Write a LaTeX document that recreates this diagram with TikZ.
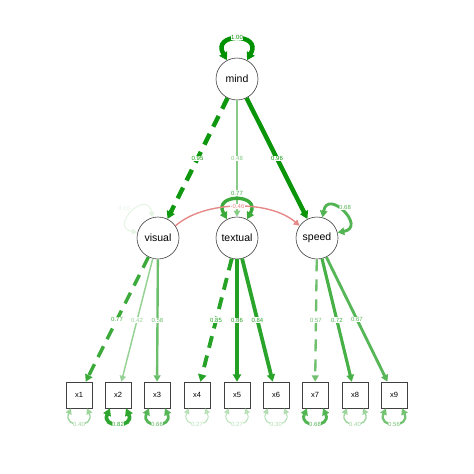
\documentclass[tikz,border=0pt]{standalone}
\usepackage{fontspec}
\setmainfont{Liberation Sans}
\usetikzlibrary{arrows.meta}

\definecolor{pos}{RGB}{0,145,0}
\definecolor{neg}{RGB}{205,20,20}

\tikzset{
  lat/.style={circle, draw=black!75, line width=0.6pt, minimum size=42pt,
    inner sep=0pt, font=\fontsize{10.5}{12}\selectfont},
  man/.style={rectangle, draw=black!75, line width=0.6pt, minimum width=26pt,
    minimum height=26pt, inner sep=0pt, font=\fontsize{7.5}{9}\selectfont},
  lbl/.style={fill=white, inner sep=0.6pt, font=\fontsize{6}{7}\selectfont},
  dsh/.style={dash pattern=on 12pt off 8pt},
}

\begin{document}
\begin{tikzpicture}[x=1pt, y=-1pt,
  >={Triangle[length=5pt 0.6, width=5pt 0.8]}]
\useasboundingbox (0,0) rectangle (474,474);

% latent variables
\node[lat] (mind) at (237,79) {mind};
\foreach \n/\x in {visual/158, textual/237, speed/317} {
  \node[lat] (\n) at (\x,238) {\n};
}

% indicators
\foreach \i/\x in {1/79, 2/118, 3/157, 4/197, 5/237, 6/276, 7/315, 8/355, 9/394} {
  \node[man] (x\i) at (\x,395) {x\i};
}

% second order loadings
\foreach \n/\v/\d in {visual/0.95/dsh, textual/0.48/solid, speed/0.96/solid} {
  \pgfmathtruncatemacro\pc{100*\v}
  \pgfmathsetmacro\w{max(1,(\v-0.15)*5.5)}
  \draw[->, color=pos!\pc!white, line width=\w pt, \d] (mind) --
    node[lbl, text=pos!\pc!white, solid] {\v} (\n);
}

% first order loadings
\foreach \f/\i/\v/\d in {visual/1/0.77/dsh, visual/2/0.42/solid, visual/3/0.58/solid,
    textual/4/0.85/dsh, textual/5/0.86/solid, textual/6/0.84/solid,
    speed/7/0.57/dsh, speed/8/0.72/solid, speed/9/0.67/solid} {
  \pgfmathtruncatemacro\pc{100*\v}
  \pgfmathsetmacro\w{max(1,(\v-0.15)*5.5)}
  \draw[->, color=pos!\pc!white, line width=\w pt, \d] (\f) --
    node[lbl, text=pos!\pc!white, solid] {\v} (x\i);
}

% residual variances of the latents
\draw[<->, color=pos, line width=4.5pt] (mind.118) .. controls +(120:32pt) and +(60:32pt) .. (mind.62);
\node[lbl, text=pos] (r-mind) at (237,37) {1.00};

\draw[<->, color=pos!77!white, line width=3.4pt] (textual.118) .. controls +(120:30pt) and +(60:30pt) .. (textual.62);
\node[lbl, text=pos!77!white] (r-textual) at (237,193) {0.77};

\draw[<->, color=pos!68!white, line width=2.9pt] (speed.75) .. controls +(80:30pt) and +(10:30pt) .. (speed.15);
\node[lbl, text=pos!68!white] (r-speed) at (345,207) {0.68};

\draw[<->, color=pos!10!white, line width=1pt] (visual.165) .. controls +(170:30pt) and +(100:30pt) .. (visual.105);
\node[lbl, text=pos!10!white] (r-visual) at (124,208) {0.10};

% regression visual -> speed
\draw[->, color=neg!50!white, line width=1.4pt] (visual.35) .. controls (205,200) and (270,200) ..
  node[lbl, text=neg!50!white] (l-reg) {-0.46} (speed.145);

% residual variances of the indicators
\foreach \i/\v in {1/0.40, 2/0.82, 3/0.66, 4/0.27, 5/0.27, 6/0.30, 7/0.68, 8/0.40, 9/0.56} {
  \pgfmathtruncatemacro\pc{100*\v}
  \pgfmathsetmacro\w{max(1,(\v-0.15)*5.5)}
  \draw[<->, color=pos!\pc!white, line width=\w pt] ([xshift=-8pt]x\i.south)
    .. controls +(-9pt,-20pt) and +(9pt,-20pt) .. ([xshift=8pt]x\i.south);
  \node[lbl, text=pos!\pc!white] (r-x\i) at ([yshift=-16pt]x\i.south) {\v};
}
\end{tikzpicture}
\end{document}
